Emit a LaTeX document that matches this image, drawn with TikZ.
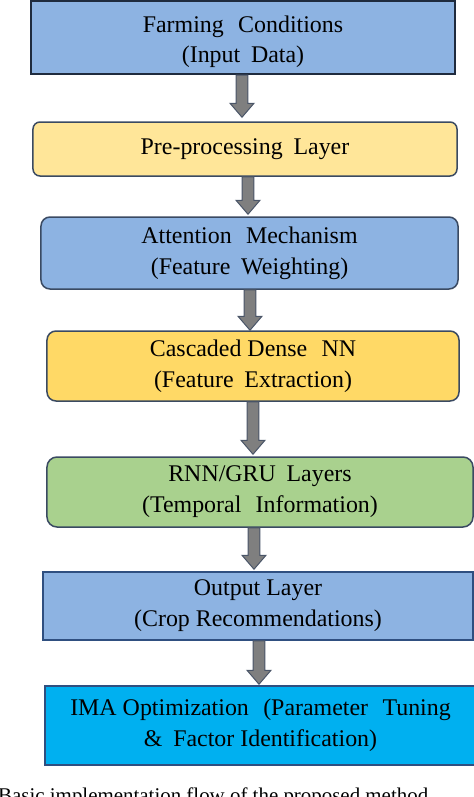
\documentclass[tikz,border=0pt]{standalone}
\usepackage{fontspec}
\setmainfont{Liberation Serif}
\usetikzlibrary{calc}
\definecolor{bluefill}{HTML}{8DB3E2}
\definecolor{lightyellow}{HTML}{FFE699}
\definecolor{gold}{HTML}{FFD966}
\definecolor{greenfill}{HTML}{A9D18E}
\definecolor{cyanfill}{HTML}{00B0F0}
\definecolor{darkborder}{HTML}{1F2B3E}
\definecolor{slateborder}{HTML}{3A4A62}
\definecolor{blueborder}{HTML}{2F4F80}
\definecolor{arrowfill}{HTML}{7F7F7F}
\definecolor{arrowline}{HTML}{4A5568}
\newcommand\ws{\hspace*{0.6em}}
\newcommand\wm{\hspace*{0.45em}}
\begin{document}
\begin{tikzpicture}[x=1bp,y=-1bp,
  box/.style={draw=slateborder, line width=1.5bp, align=center, inner sep=0pt,
    font=\fontsize{24}{31}\selectfont, text=black},
  fatarrow/.style={draw=arrowline, fill=arrowfill, line width=1bp, line join=miter,
    to path={let \p1=(\tikztostart), \p2=(\tikztotarget) in
      (\x1-6pt,\y1) -- (\x1-6pt,\y2+14pt) -- (\x1-12pt,\y2+14pt) -- (\x1,\y2)
      -- (\x1+12pt,\y2+14pt) -- (\x1+6pt,\y2+14pt) -- (\x1+6pt,\y1) -- cycle}}]
\useasboundingbox (0,0) rectangle (474,797);
\clip (0,0) rectangle (474,797);

\node[box, draw=darkborder, line width=2bp, fill=bluefill, minimum width=424bp, minimum height=73bp]
  (n1) at (243,37.5) {\rule{0pt}{25bp}Farming\ws Conditions\\(Input\wm Data)};
\node[box, fill=lightyellow, rounded corners=7bp, minimum width=424bp, minimum height=54bp]
  (n2) at (245,149) {Pre-processing\wm Layer};
\node[box, fill=bluefill, rounded corners=9bp, minimum width=417bp, minimum height=72bp]
  (n3) at (249.5,253) {Attention\ws Mechanism\\(Feature\wm Weighting)};
\node[box, fill=gold, rounded corners=9bp, minimum width=412bp, minimum height=70bp]
  (n4) at (253,366) {Cascaded Dense\ws NN\\(Feature\wm Extraction)};
\node[box, fill=greenfill, rounded corners=10bp, minimum width=426bp, minimum height=70bp]
  (n5) at (260,492) {RNN/GRU\wm Layers\\(Temporal\ws Information)};
\node[box, draw=blueborder, fill=bluefill, minimum width=430bp, minimum height=68bp]
  (n6) at (258,606) {Output Layer\\(Crop Recommendations)};
\node[box, draw=blueborder, fill=cyanfill, minimum width=431bp, minimum height=79bp]
  (n7) at (260.5,725.5) {IMA Optimization\ws (Parameter\ws Tuning\\\&\wm Factor Identification)};

\draw[fatarrow] ([xshift=-1bp]n1.south) to ([yshift=4bp]n2.north);
\draw[fatarrow] ([xshift=3bp]n2.south) to ([yshift=2bp]n3.north);
\draw[fatarrow] ([xshift=0.5bp]n3.south) to (n4.north);
\draw[fatarrow] (n4.south) to ([yshift=2bp]n5.north);
\draw[fatarrow] ([xshift=-6bp]n5.south) to ([yshift=2bp]n6.north);
\draw[fatarrow] ([xshift=1bp]n6.south) to ([yshift=1bp]n7.north);

\node[anchor=base west, inner sep=0pt, font=\fontsize{21}{25}\selectfont]
  (cap) at (-2,802) {Basic implementation flow of the proposed method};
\end{tikzpicture}
\end{document}
